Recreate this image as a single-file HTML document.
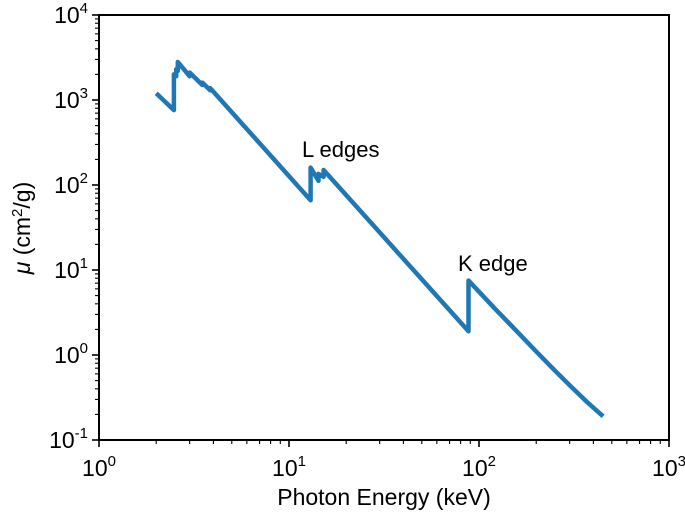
<!DOCTYPE html>
<html><head><meta charset="utf-8"><style>
body{margin:0;background:#fff}
text{font-family:"Liberation Sans","DejaVu Sans",sans-serif;fill:#000}
</style></head><body>
<svg id="chart" width="685" height="517" viewBox="0 0 685 517" xmlns="http://www.w3.org/2000/svg">
<g id="axes"></g>
<g id="series"></g>
<rect x="99" y="15" width="570" height="425" fill="none" stroke="#000" stroke-width="2"/>
<text x="302" y="157" font-size="22">L edges</text>
<text x="458" y="271" font-size="22">K edge</text>
<text x="384" y="505" font-size="23" text-anchor="middle">Photon Energy (keV)</text>
<text transform="translate(30,228) rotate(-90)" font-size="23" text-anchor="middle"><tspan font-style="italic">μ</tspan> (cm<tspan dy="-8" font-size="15">2</tspan><tspan dy="8">/g)</tspan></text>
</svg>
<script>
const energies = [2,2.48,2.48,2.55,2.55,2.6,2.6,3.0,3.0,3.5,3.5,3.85,3.85,13.0,13.0,14.3,14.3,15.2,15.2,88,88,120,160,200,250,300,370,450];
const mu = [1200,760,2000,1900,2300,2200,2800,1900,2100,1500,1600,1300,1380,66,160,112,135,125,150,1.9,7.5,3.6,1.85,1.1,0.66,0.44,0.28,0.19];
const xTickExps = [0,1,2,3];
const yTickExps = [-1,0,1,2,3,4];
const L=99,R=669,T=15,B=440;
const xMin=0,xMax=3,yMin=-1,yMax=4;
const NS="http://www.w3.org/2000/svg";
function xs(v){return L+(Math.log10(v)-xMin)/(xMax-xMin)*(R-L);}
function ys(v){return B-(Math.log10(v)-yMin)/(yMax-yMin)*(B-T);}
function mk(tag,attrs,parent){const e=document.createElementNS(NS,tag);for(const k in attrs)e.setAttribute(k,attrs[k]);parent.appendChild(e);return e;}
const ax=document.getElementById('axes');
xTickExps.forEach(p=>{
  const x=xs(Math.pow(10,p));
  const t=mk('line',{x1:x,x2:x,y1:B,y2:B+7,stroke:'#000','stroke-width':1.6},ax);
  
  
  const lb=mk('text',{x:x,y:B+36,'font-size':23,'text-anchor':'middle'},ax);
  
  
  lb.innerHTML='10<tspan dy="-10" font-size="15">'+p+'</tspan>';
  if(p<xMax)for(let m=2;m<10;m++){const xm=xs(m*Math.pow(10,p));
    const mt=mk('line',{x1:xm,x2:xm,y1:B,y2:B+4,stroke:'#000','stroke-width':1.1},ax);
    
    }
});
yTickExps.forEach(p=>{
  const y=ys(Math.pow(10,p));
  const t=mk('line',{x1:L-7,x2:L,y1:y,y2:y,stroke:'#000','stroke-width':1.6},ax);
  
  
  const lb=mk('text',{x:L-11,y:y+8,'font-size':23,'text-anchor':'end'},ax);
  
  
  lb.innerHTML='10<tspan dy="-10" font-size="15">'+p+'</tspan>';
  if(p<yMax)for(let m=2;m<10;m++){const ym=ys(m*Math.pow(10,p));
    const mt=mk('line',{x1:L-4,x2:L,y1:ym,y2:ym,stroke:'#000','stroke-width':1.1},ax);
    
    }
});
const d=energies.map((e,i)=>(i?'L':'M')+xs(e).toFixed(1)+','+ys(mu[i]).toFixed(1)).join(' ');
const path=mk('path',{d:d,fill:'none',stroke:'#1f77b4','stroke-width':4.5,'stroke-linejoin':'round'},document.getElementById('series'));


</script>
</body></html>
